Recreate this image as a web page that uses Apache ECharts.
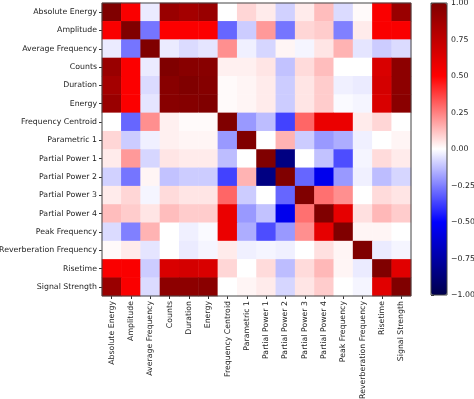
<!DOCTYPE html>
<html><head><meta charset="utf-8">
<script src="https://cdn.jsdelivr.net/npm/echarts@6/dist/echarts.min.js"></script>
<style>html,body{margin:0;padding:0;background:#fff}#c{width:474px;height:399px}</style>
</head><body><div id="c"></div>
<script>
const features = ['Absolute Energy','Amplitude','Average Frequency','Counts','Duration','Energy','Frequency Centroid','Parametric 1','Partial Power 1','Partial Power 2','Partial Power 3','Partial Power 4','Peak Frequency','Reverberation Frequency','Risetime','Signal Strength'];

const rowAbsoluteEnergy   = [1.00, 0.52,-0.04, 0.90, 0.86, 0.90, 0.00, 0.08, 0.04,-0.09, 0.04, 0.13,-0.07, 0.01, 0.52, 0.90];
const rowAmplitude        = [0.52, 1.00,-0.27, 0.51, 0.51, 0.51,-0.30,-0.10, 0.20,-0.27, 0.08, 0.10,-0.25, 0.04, 0.52, 0.52];
const rowAverageFrequency = [-0.04,-0.27, 1.00,-0.04,-0.07,-0.05, 0.22,-0.03,-0.08, 0.02,-0.02, 0.05, 0.15,-0.05,-0.10,-0.07];
const rowCounts           = [0.90, 0.51,-0.04, 1.00, 0.97, 0.97, 0.03, 0.03, 0.05,-0.12, 0.07, 0.13, 0.00, 0.00, 0.65, 0.95];
const rowDuration         = [0.86, 0.51,-0.07, 0.97, 1.00, 0.98, 0.01, 0.02, 0.04,-0.10, 0.05, 0.10,-0.03,-0.04, 0.67, 0.95];
const rowEnergy           = [0.90, 0.51,-0.05, 0.97, 0.98, 1.00, 0.01, 0.02, 0.04,-0.10, 0.05, 0.10,-0.01,-0.02, 0.65, 0.96];
const rowFreqCentroid     = [0.00,-0.30, 0.22, 0.03, 0.01, 0.01, 1.00,-0.20,-0.13,-0.37, 0.30, 0.58, 0.58, 0.04, 0.08, 0.00];
const rowParametric1      = [0.08,-0.10,-0.03, 0.03, 0.02, 0.02,-0.20, 1.00, 0.00, 0.15,-0.10,-0.20,-0.16,-0.03, 0.00, 0.02];
const rowPartialPower1    = [0.04, 0.20,-0.08, 0.05, 0.04, 0.04,-0.13, 0.00, 1.00,-0.85, 0.00,-0.12,-0.35,-0.02, 0.07, 0.04];
const rowPartialPower2    = [-0.09,-0.27, 0.02,-0.12,-0.10,-0.10,-0.37, 0.15,-0.85, 1.00,-0.30,-0.55,-0.20,-0.03,-0.13,-0.08];
const rowPartialPower3    = [0.04, 0.08,-0.02, 0.07, 0.05, 0.05, 0.30,-0.10, 0.00,-0.30, 1.00, 0.28, 0.22, 0.00, 0.07, 0.05];
const rowPartialPower4    = [0.13, 0.10, 0.05, 0.13, 0.10, 0.10, 0.58,-0.20,-0.12,-0.55, 0.28, 1.00, 0.60, 0.06, 0.14, 0.10];
const rowPeakFrequency    = [-0.07,-0.25, 0.15, 0.00,-0.03,-0.01, 0.58,-0.16,-0.35,-0.20, 0.22, 0.60, 1.00, 0.02, 0.02, 0.00];
const rowReverbFrequency  = [0.01, 0.04,-0.05, 0.00,-0.04,-0.02, 0.04,-0.03,-0.02,-0.03, 0.00, 0.06, 0.02, 1.00,-0.04,-0.02];
const rowRisetime         = [0.52, 0.52,-0.10, 0.65, 0.67, 0.65, 0.08, 0.00, 0.07,-0.13, 0.07, 0.14, 0.02,-0.04, 1.00, 0.62];
const rowSignalStrength   = [0.90, 0.52,-0.07, 0.95, 0.95, 0.96, 0.00, 0.02, 0.04,-0.08, 0.05, 0.10, 0.00,-0.02, 0.62, 1.00];

const colorbarTicks = [-1, -0.75, -0.5, -0.25, 0, 0.25, 0.5, 0.75, 1];

const matrix = [rowAbsoluteEnergy,rowAmplitude,rowAverageFrequency,rowCounts,rowDuration,rowEnergy,rowFreqCentroid,rowParametric1,rowPartialPower1,rowPartialPower2,rowPartialPower3,rowPartialPower4,rowPeakFrequency,rowReverbFrequency,rowRisetime,rowSignalStrength];
const data = [];
matrix.forEach((row, r) => row.forEach((v, c) => data.push([c, r, v])));

const FONT = 'DejaVu Sans';
const FS = 7.8;
const chart = echarts.init(document.getElementById('c'), null, {renderer: 'canvas'});
chart.setOption({
  animation: false,
  backgroundColor: '#fff',
  grid: [
    {left: 102, top: 3, width: 309, height: 293, show: true, borderColor: '#444', borderWidth: 1, backgroundColor: 'transparent', z: 5, containLabel: false, outerBoundsMode: 'none'},
    {left: 431, top: 3, width: 16, height: 292, show: true, borderColor: '#444', borderWidth: 1, z: 5, containLabel: false, outerBoundsMode: 'none'}
  ],
  xAxis: [
    {type: 'category', data: features, gridIndex: 0, position: 'bottom',
     axisLine: {show: false}, splitLine: {show: false},
     axisTick: {show: true, alignWithLabel: true, length: 3, lineStyle: {color: '#333'}},
     axisLabel: {rotate: 90, interval: 0, fontFamily: FONT, fontSize: FS, color: '#222', margin: 5}},
    {type: 'value', gridIndex: 1, show: false, min: 0, max: 1}
  ],
  yAxis: [
    {type: 'category', data: features, gridIndex: 0, inverse: true,
     axisLine: {show: false}, splitLine: {show: false},
     axisTick: {show: true, alignWithLabel: true, length: 3, lineStyle: {color: '#333'}},
     axisLabel: {interval: 0, fontFamily: FONT, fontSize: FS, color: '#222', margin: 5}},
    {type: 'value', gridIndex: 1, position: 'right', min: -1, max: 1, interval: 0.25,
     axisLine: {show: false}, splitLine: {show: false},
     axisTick: {show: true, length: 3, lineStyle: {color: '#333'}},
     axisLabel: {fontFamily: FONT, fontSize: FS, color: '#222', margin: 4,
       formatter: v => colorbarTicks.some(t => Math.abs(t - v) < 1e-9) ? v.toFixed(2).replace('-', '\u2212') : ''}}
  ],
  visualMap: {
    type: 'continuous', seriesIndex: 0, min: -1, max: 1,
    calculable: false, realtime: false, hoverLink: false,
    orient: 'vertical', left: 431, top: 3, itemWidth: 16, itemHeight: 292, padding: 0,
    text: null, showLabel: false,
    inRange: {color: ['#00004c', '#0000ff', '#ffffff', '#ff0000', '#800000']}
  },
  series: [{
    type: 'heatmap', xAxisIndex: 0, yAxisIndex: 0, data: data,
    itemStyle: {borderWidth: 0}, emphasis: {disabled: true}
  }]
});
</script></body></html>
